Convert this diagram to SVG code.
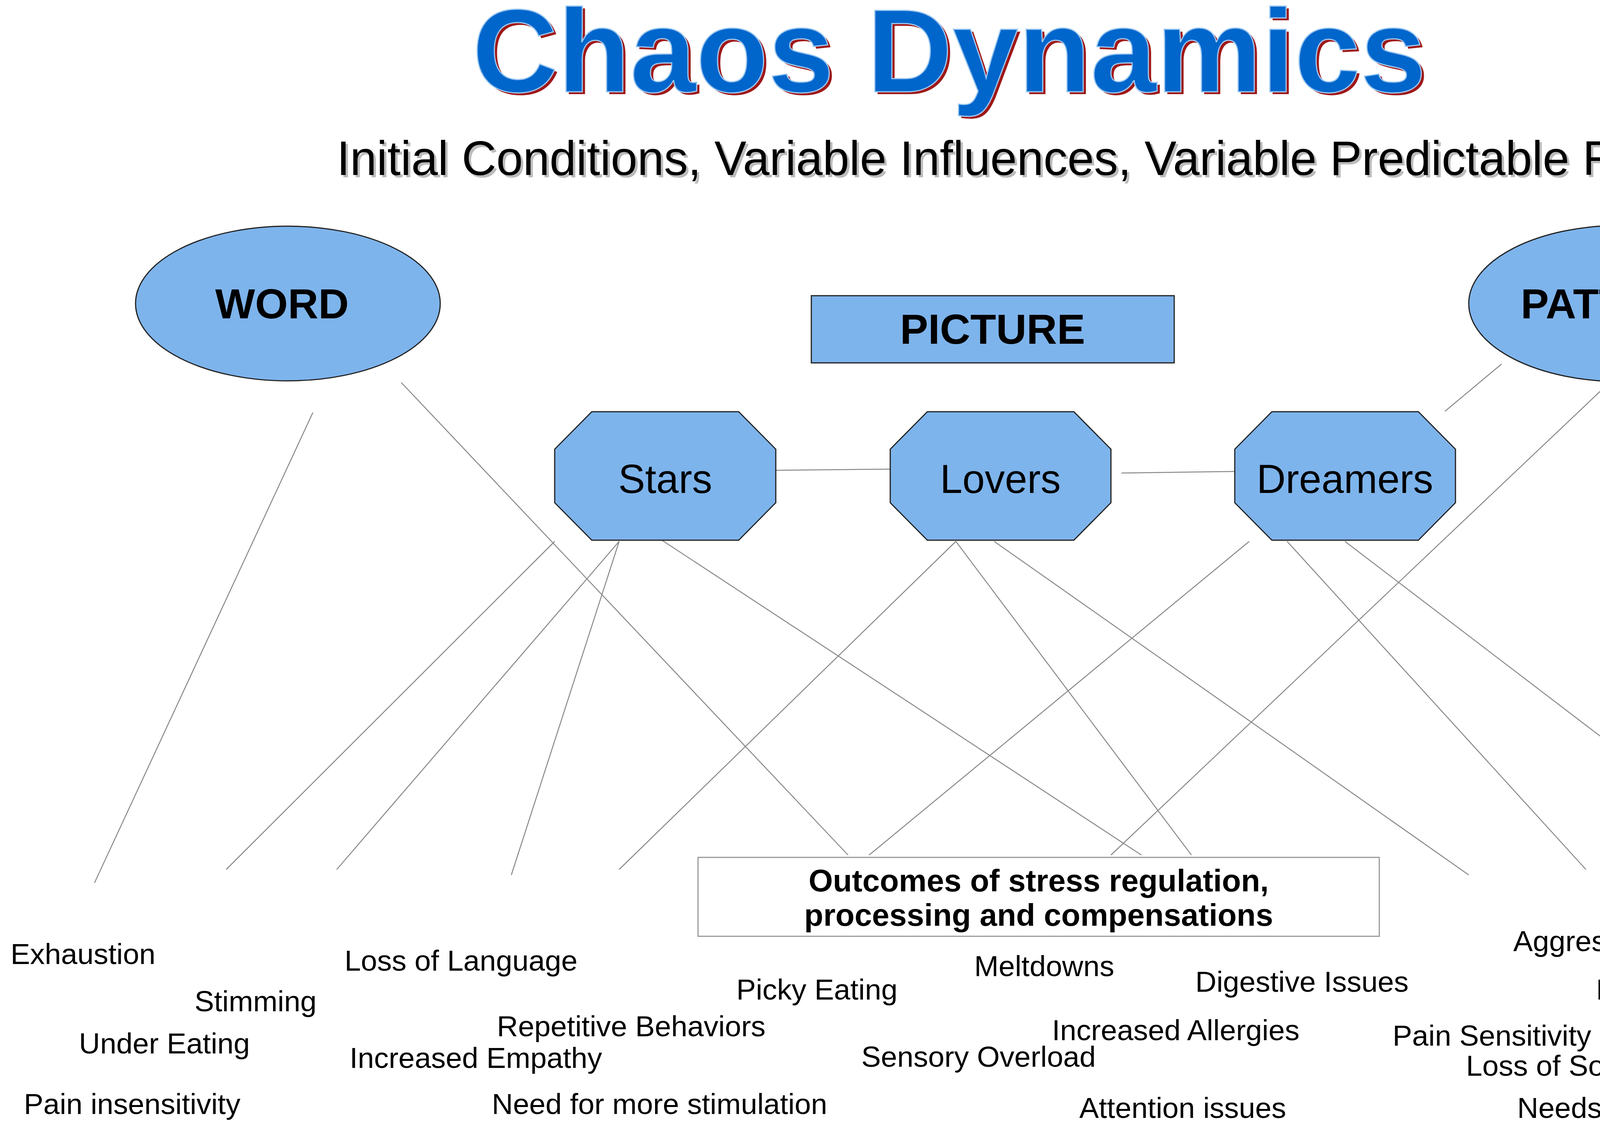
<svg xmlns="http://www.w3.org/2000/svg" width="5234" height="2875" viewBox="0 0 5234 2875">
<style>
.node{fill:#7eb4ec;stroke:#222;stroke-width:3}
.lbl{font-family:"Liberation Sans",Arial,sans-serif;font-size:75px;fill:#000}
.nt{font-family:"Liberation Sans",Arial,sans-serif;font-size:103px;fill:#000;text-anchor:middle}
.bt{font-family:"Liberation Sans",Arial,sans-serif;font-size:108px;font-weight:bold;fill:#000;text-anchor:middle}
#connectors line{stroke:#888;stroke-width:2.5}
</style>
<rect width="5234" height="2875" fill="#fff"/>
<g id="title" font-family="Liberation Sans,Arial,sans-serif" font-weight="bold" font-size="303" text-anchor="middle">
<text x="2437" y="241" fill="#a01818">Chaos Dynamics</text>
<text x="2430" y="235" fill="#0066cc" stroke="#9cc8f0" stroke-width="3">Chaos Dynamics</text>
</g>
<g id="subtitle" font-family="Liberation Sans,Arial,sans-serif" font-size="124">
<text x="868" y="454" fill="#bbb" textLength="3598" lengthAdjust="spacingAndGlyphs">Initial Conditions, Variable Influences, Variable Predictable Results</text>
<text x="862" y="448" fill="#000" textLength="3598" lengthAdjust="spacingAndGlyphs">Initial Conditions, Variable Influences, Variable Predictable Results</text>
</g>
<g id="connectors">
<line x1="801" y1="1056" x2="242" y2="2260"/>
<line x1="1027" y1="979" x2="2171" y2="2189"/>
<line x1="1986" y1="1204" x2="2279" y2="1201"/>
<line x1="2871" y1="1211" x2="3161" y2="1207"/>
<line x1="3844" y1="932" x2="3699" y2="1053"/>
<line x1="4110" y1="989" x2="2844" y2="2189"/>
<line x1="4214" y1="975" x2="5049" y2="2206"/>
<line x1="1420" y1="1386" x2="579" y2="2226"/>
<line x1="1585" y1="1386" x2="862" y2="2226"/>
<line x1="1585" y1="1386" x2="1309" y2="2240"/>
<line x1="1693" y1="1382" x2="2922" y2="2189"/>
<line x1="2447" y1="1386" x2="1585" y2="2226"/>
<line x1="2447" y1="1386" x2="3050" y2="2189"/>
<line x1="2545" y1="1386" x2="3760" y2="2240"/>
<line x1="3198" y1="1386" x2="2225" y2="2189"/>
<line x1="3295" y1="1386" x2="4060" y2="2226"/>
<line x1="3443" y1="1386" x2="4544" y2="2226"/>
</g>
<g id="word"><ellipse class="node" cx="737" cy="777" rx="390" ry="198"/><text class="bt" x="722" y="815">WORD</text></g>
<g id="pattern"><ellipse class="node" cx="4150" cy="777" rx="390" ry="200"/><text class="bt" x="4140" y="815">PATTERN</text></g>
<g id="picture"><rect class="node" x="2077" y="757" width="929" height="172"/><text class="bt" x="2541" y="880">PICTURE</text></g>
<g id="stars"><polygon class="node" points="1515,1054 1891,1054 1986,1150 1986,1287 1891,1383 1515,1383 1420,1287 1420,1150"/><text class="nt" x="1703" y="1262">Stars</text></g>
<g id="lovers"><polygon class="node" points="2374,1054 2749,1054 2844,1150 2844,1287 2749,1383 2374,1383 2279,1287 2279,1150"/><text class="nt" x="2561" y="1262">Lovers</text></g>
<g id="dreamers"><polygon class="node" points="3256,1054 3631,1054 3726,1150 3726,1287 3631,1383 3256,1383 3161,1287 3161,1150"/><text class="nt" x="3443" y="1262">Dreamers</text></g>
<g id="outcomes"><rect x="1787" y="2195" width="1744" height="202" fill="#fff" stroke="#999" stroke-width="3"/>
<text class="bt" style="font-size:80px" x="2659" y="2282">Outcomes of stress regulation,</text>
<text class="bt" style="font-size:80px" x="2659" y="2370">processing and compensations</text></g>
<g id="labels">
<text class="lbl" x="27" y="2468">Exhaustion</text>
<text class="lbl" x="498" y="2589">Stimming</text>
<text class="lbl" x="202" y="2697">Under Eating</text>
<text class="lbl" x="61" y="2852">Pain insensitivity</text>
<text class="lbl" x="882" y="2485">Loss of Language</text>
<text class="lbl" x="1272" y="2653">Repetitive Behaviors</text>
<text class="lbl" x="895" y="2734">Increased Empathy</text>
<text class="lbl" x="1259" y="2852">Need for more stimulation</text>
<text class="lbl" x="1885" y="2559">Picky Eating</text>
<text class="lbl" x="2494" y="2499">Meltdowns</text>
<text class="lbl" x="2205" y="2731">Sensory Overload</text>
<text class="lbl" x="3060" y="2539">Digestive Issues</text>
<text class="lbl" x="2693" y="2663">Increased Allergies</text>
<text class="lbl" x="2763" y="2862">Attention issues</text>
<text class="lbl" x="3874" y="2435">Aggressive Behaviors</text>
<text class="lbl" x="4086" y="2559">Decreased empathy</text>
<text class="lbl" x="3565" y="2677">Pain Sensitivity</text>
<text class="lbl" x="3753" y="2754">Loss of Social Skills</text>
<text class="lbl" x="4521" y="2680">Over-eating</text>
<text class="lbl" x="3884" y="2862">Needs less stimulation</text>
</g>
</svg>
